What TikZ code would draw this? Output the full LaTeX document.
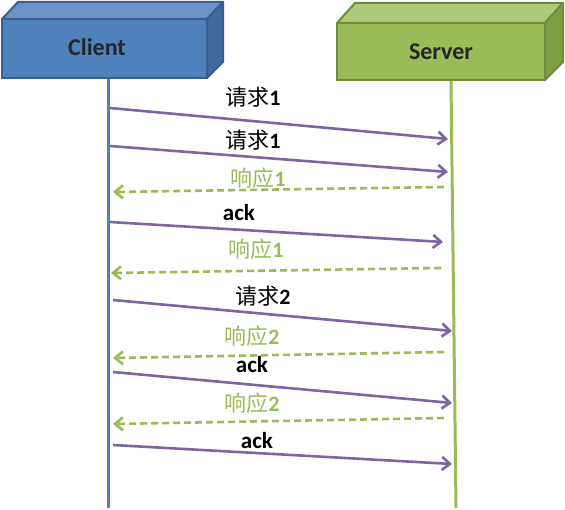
\documentclass[tikz,border=0pt]{standalone}
\usepackage{fontspec}
\setmainfont{Carlito}
\newfontfamily\cjk{Noto Sans CJK SC}
\usetikzlibrary{arrows.meta}
\definecolor{cliblue}{HTML}{4F81BD}
\definecolor{clitop}{HTML}{6C94C8}
\definecolor{cliside}{HTML}{3E6AA2}
\definecolor{cliedge}{HTML}{3A5F8E}
\definecolor{srvgreen}{HTML}{9BBB59}
\definecolor{srvtop}{HTML}{AECA78}
\definecolor{srvside}{HTML}{7F9D45}
\definecolor{srvedge}{HTML}{71893F}
\definecolor{msgpurple}{HTML}{8064A2}
\newcommand{\zhlbl}[2]{{\cjk #1}\textbf{#2}}

\begin{document}
\begin{tikzpicture}[x=1pt,y=-1pt,
  req/.style={draw=msgpurple,line width=2.6pt,-{Straight Barb[length=8pt,width=13pt]}},
  resp/.style={draw=srvgreen,line width=2.6pt,dash pattern=on 7pt off 4pt,-{Straight Barb[length=8pt,width=13pt]}},
  lbl/.style={inner sep=0pt,font=\fontsize{22}{24}\selectfont},
  ackl/.style={inner sep=0pt,font=\fontsize{23}{25}\selectfont\bfseries},
  box/.style={line width=2pt,inner sep=0pt,font=\fontsize{24}{26}\selectfont\bfseries,text=black!85}]
\useasboundingbox (0,0) rectangle (565,510);

% client box
\filldraw[fill=clitop,draw=cliedge,line width=2pt,line join=round] (2,19) -- (18,2) -- (223,2) -- (207,19) -- cycle;
\filldraw[fill=cliside,draw=cliedge,line width=2pt,line join=round] (207,19) -- (223,2) -- (223,62) -- (207,78) -- cycle;
\node[box,fill=cliblue,draw=cliedge,minimum width=205pt,minimum height=59pt] (client) at (104.5,48.5) {};
\node[box] (clitxt) at (97,47) {Client};

% server box
\filldraw[fill=srvtop,draw=srvedge,line width=2pt,line join=round] (337,23) -- (355,3) -- (563,3) -- (545,23) -- cycle;
\filldraw[fill=srvside,draw=srvedge,line width=2pt,line join=round] (545,23) -- (563,3) -- (563,62) -- (545,80) -- cycle;
\node[box,fill=srvgreen,draw=srvedge,minimum width=208pt,minimum height=57pt] (server) at (441,51.5) {Server};

% lifelines
\coordinate (cbot) at (108,508);
\coordinate (sbot) at (456,508);
\coordinate (stop) at (451,80);
\draw[cliblue,line width=3pt] (client.south -| cbot) -- (cbot);
\draw[srvgreen,line width=3pt] (server.south -| stop) -- (sbot);

% message ends
\coordinate (c1) at (110,108);  \coordinate (s1) at (448,139);
\coordinate (c2) at (110,146);  \coordinate (s2) at (448,172);
\coordinate (s3) at (444,187);  \coordinate (c3) at (113,192);
\coordinate (c4) at (110,222);  \coordinate (s4) at (443,242);
\coordinate (s5) at (441,268);  \coordinate (c5) at (111,273);
\coordinate (c6) at (113,300);  \coordinate (s6) at (452,331);
\coordinate (s7) at (444,352);  \coordinate (c7) at (113,358);
\coordinate (c8) at (113,372);  \coordinate (s8) at (452,403);
\coordinate (s9) at (444,418);  \coordinate (c9) at (113,424);
\coordinate (c10) at (113,445); \coordinate (s10) at (452,464);

% messages
\draw[req] (c1) -- (s1);
\draw[req] (c2) -- (s2);
\draw[resp] (s3) -- (c3);
\draw[req] (c4) -- (s4);
\draw[resp] (s5) -- (c5);
\draw[req] (c6) -- (s6);
\draw[resp] (s7) -- (c7);
\draw[req] (c8) -- (s8);
\draw[resp] (s9) -- (c9);
\draw[req] (c10) -- (s10);

% labels
\node[lbl] (req1a) at (253,97) {\zhlbl{请求}{1}};
\node[lbl] (req1b) at (253,140) {\zhlbl{请求}{1}};
\node[lbl,text=srvgreen] (resp1a) at (258,178) {\zhlbl{响应}{1}};
\node[ackl] (ack1) at (239,213) {ack};
\node[lbl,text=srvgreen] (resp1b) at (256,249) {\zhlbl{响应}{1}};
\node[lbl] (req2) at (263,296) {\zhlbl{请求}{2}};
\node[lbl,text=srvgreen] (resp2a) at (252,336) {\zhlbl{响应}{2}};
\node[ackl] (ack2) at (252,365) {ack};
\node[lbl,text=srvgreen] (resp2b) at (252,403) {\zhlbl{响应}{2}};
\node[ackl] (ack3) at (257,441) {ack};
\end{tikzpicture}
\end{document}
